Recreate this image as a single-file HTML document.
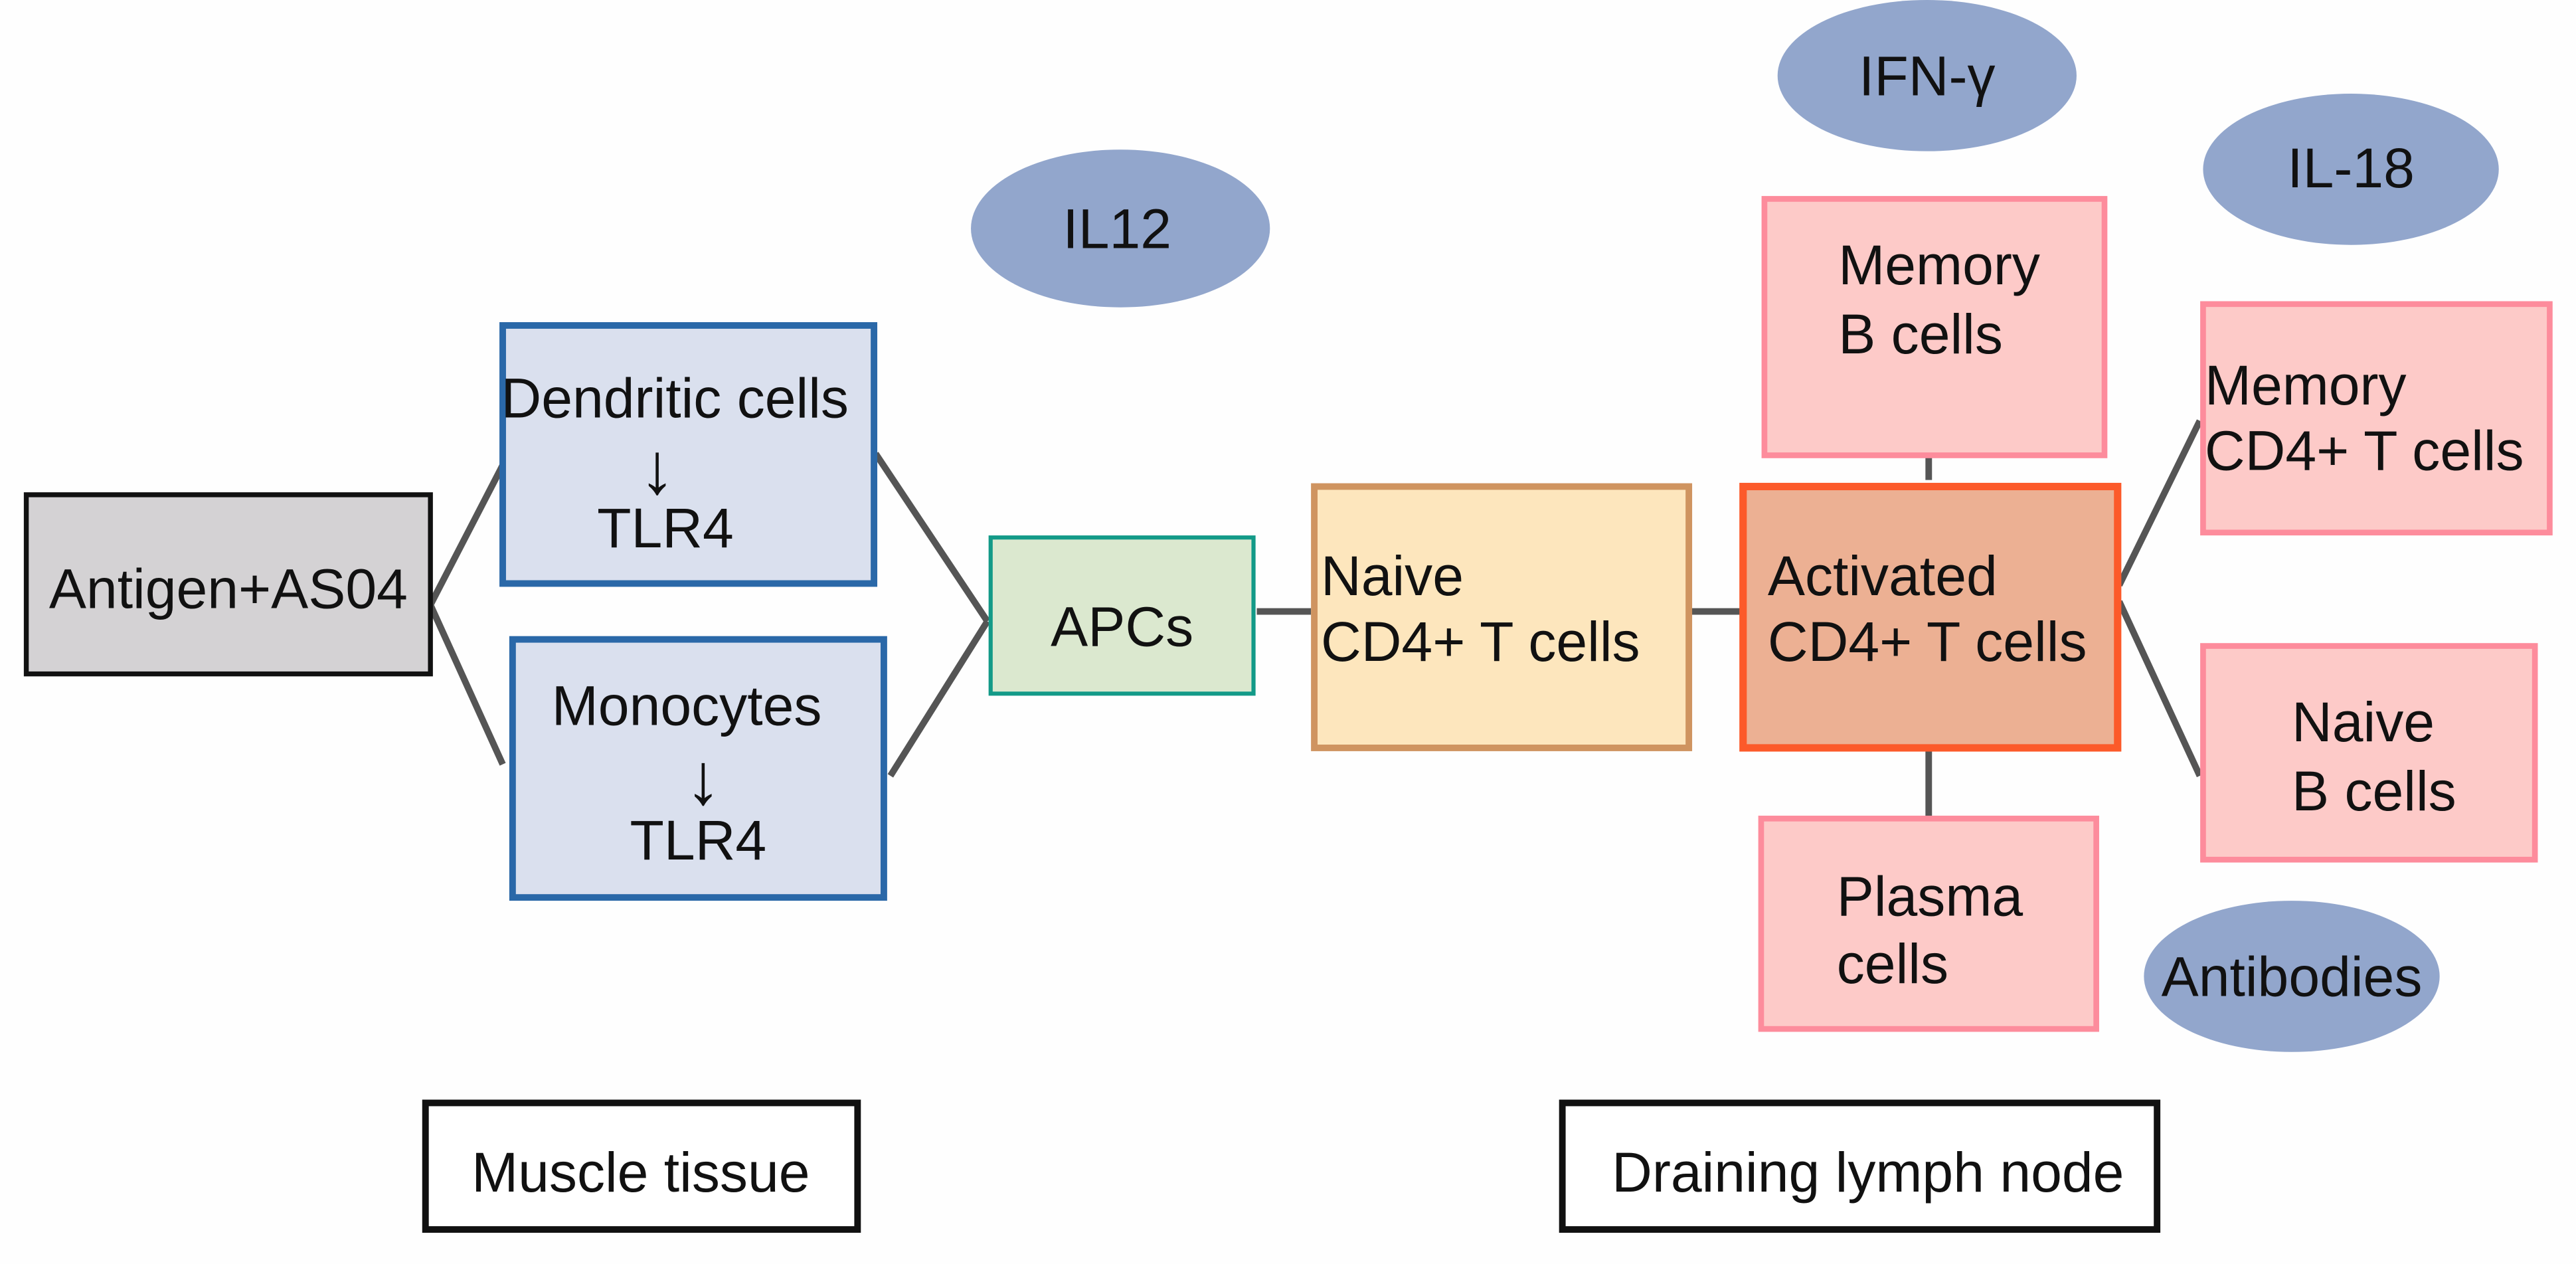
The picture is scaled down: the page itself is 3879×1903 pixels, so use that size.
<!DOCTYPE html>
<html><head><meta charset="utf-8"><style>
html,body{margin:0;padding:0;background:#fff;}
svg{display:block;}
text{font-family:"Liberation Sans",Arial,sans-serif;font-size:34px;fill:#111;}
.ar{font-size:44px;}
</style></head><body>
<svg width="3879" height="1903" viewBox="0 0 1568 769" preserveAspectRatio="none" xmlns="http://www.w3.org/2000/svg">
<rect x="0" y="0" width="1568" height="769" fill="#fefefe"/>
<g stroke="#555" stroke-width="4" fill="none">
<line x1="262" y1="368" x2="306" y2="283"/>
<line x1="262" y1="368" x2="306" y2="465"/>
<line x1="533" y1="276" x2="601" y2="378"/>
<line x1="542" y1="472" x2="601" y2="378"/>
<line x1="765" y1="372" x2="798" y2="372"/>
<line x1="1029" y1="372" x2="1061" y2="372"/>
<line x1="1174" y1="257" x2="1174" y2="292"/>
<line x1="1174" y1="457" x2="1174" y2="497"/>
<line x1="1290" y1="356" x2="1339" y2="256"/>
<line x1="1290" y1="366" x2="1339" y2="472"/>
</g>
<rect x="16" y="301" width="246" height="109" fill="#d4d2d4" stroke="#111" stroke-width="3"/>
<rect x="306" y="198" width="226" height="157" fill="#dae0ee" stroke="#2a68a8" stroke-width="4"/>
<rect x="312" y="389" width="226" height="157" fill="#dae0ee" stroke="#2a68a8" stroke-width="4"/>
<rect x="603" y="327" width="160" height="95" fill="#dbe8cf" stroke="#139a88" stroke-width="2.5"/>
<rect x="800" y="296" width="228" height="159" fill="#fde6bd" stroke="#cf9460" stroke-width="4"/>
<rect x="1061" y="296" width="228" height="159" fill="#ecb093" stroke="#fc5a2a" stroke-width="4.5"/>
<rect x="1074" y="121" width="207" height="156" fill="#fdcac8" stroke="#fd8c9c" stroke-width="3.5"/>
<rect x="1072" y="498" width="204" height="128" fill="#fdcac8" stroke="#fd8c9c" stroke-width="3.5"/>
<rect x="1341" y="185" width="211" height="139" fill="#fdcac8" stroke="#fd8c9c" stroke-width="3.5"/>
<rect x="1341" y="393" width="202" height="130" fill="#fdcac8" stroke="#fd8c9c" stroke-width="3.5"/>
<rect x="259" y="671" width="263" height="77" fill="#fff" stroke="#111" stroke-width="4"/>
<rect x="951" y="671" width="362" height="77" fill="#fff" stroke="#111" stroke-width="4"/>
<g fill="#92a6cc">
<ellipse cx="682" cy="139" rx="91" ry="48"/>
<ellipse cx="1173" cy="46" rx="91" ry="46"/>
<ellipse cx="1431" cy="103" rx="90" ry="46"/>
<ellipse cx="1395" cy="594" rx="90" ry="46"/>
</g>
<text x="139" y="370" text-anchor="middle">Antigen+AS04</text>
<text x="305" y="254">Dendritic cells</text>
<text class="ar" x="400" y="300" text-anchor="middle">↓</text>
<text x="405" y="333" text-anchor="middle">TLR4</text>
<text x="418" y="441" text-anchor="middle">Monocytes</text>
<text class="ar" x="428" y="489" text-anchor="middle">↓</text>
<text x="425" y="523" text-anchor="middle">TLR4</text>
<text x="683" y="393" text-anchor="middle">APCs</text>
<text x="680" y="151" text-anchor="middle">IL12</text>
<text x="804" y="362">Naive</text>
<text x="804" y="402">CD4+ T cells</text>
<text x="1076" y="362">Activated</text>
<text x="1076" y="402">CD4+ T cells</text>
<text x="1119" y="173">Memory</text>
<text x="1119" y="215">B cells</text>
<text x="1342" y="246">Memory</text>
<text x="1342" y="286">CD4+ T cells</text>
<text x="1395" y="451">Naive</text>
<text x="1395" y="493">B cells</text>
<text x="1118" y="557">Plasma</text>
<text x="1118" y="598">cells</text>
<text x="1173" y="58" text-anchor="middle">IFN-γ</text>
<text x="1431" y="114" text-anchor="middle">IL-18</text>
<text x="1395" y="606" text-anchor="middle">Antibodies</text>
<text x="390" y="725" text-anchor="middle">Muscle tissue</text>
<text x="1137" y="725" text-anchor="middle">Draining lymph node</text>
</svg>
</body></html>
